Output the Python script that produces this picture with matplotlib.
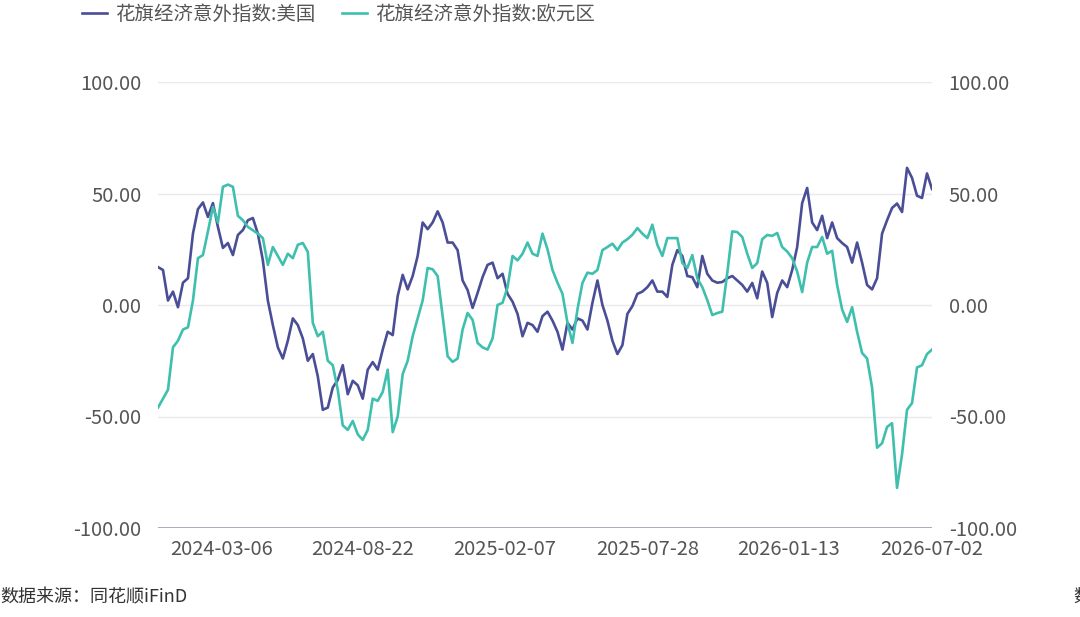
import matplotlib
matplotlib.use("Agg")
import matplotlib.pyplot as plt
import matplotlib.dates as mdates
import pandas as pd

plt.rcParams['font.family'] = ['Noto Sans CJK SC', 'DejaVu Sans']

# weekly-ish samples
start_date = '2023-12-21'
end_date = '2026-07-03'

us = [17, 15.7, 2, 6, -1, 10, 12, 32, 43, 46,
      39.5, 45.7, 35, 25.6, 27.8, 22.4, 31.4, 33.6, 38, 39,
      32, 20, 2, -9, -19, -24, -16, -6, -9, -15,
      -25, -22, -32, -47, -46, -37, -33.6, -27, -40, -34,
      -36, -42, -29, -25.6, -29, -20, -12, -13.5, 4, 13.5,
      7, 13, 22, 37, 34, 37, 42, 37, 28, 28,
      24.6, 11, 6.7, -1.3, 5.4, 12.5, 18, 19, 12, 14,
      5, 1.5, -4, -14, -8, -9, -12, -5, -3, -7,
      -12, -20, -8, -11, -6, -7, -11, 1, 11, 0,
      -7, -16, -22, -18, -4, -0.5, 5, 6, 8, 11,
      6, 6, 3.6, 18, 24.6, 22, 13, 12.5, 8, 22,
      14, 11, 10, 10.3, 12, 13, 11, 9, 6, 9.9,
      3, 15, 9.9, -5.4, 5.4, 11, 8, 15.7, 26, 45.7,
      52.5, 37, 33.6, 40, 30, 37, 30, 27.8, 26, 19,
      28, 19, 9, 7, 12, 32, 38, 43.5, 45.5, 41.7,
      61.5, 57, 49, 48, 59, 52]

eu = [-46, -42, -38, -19, -16, -11, -10, 2, 21, 22.4,
      33, 44, 37, 53, 54, 53, 40, 38, 35, 33.5,
      32, 30, 18, 26, 22, 18, 23, 21, 27, 27.8,
      23.8, -8, -14, -12, -25, -27, -38, -54, -56, -52,
      -58, -60.5, -56, -42, -43, -39, -29, -57, -50, -31,
      -25, -14, -6, 2, 16.6, 16, 13, -5, -23, -25.5,
      -24, -11, -3.6, -6.7, -17, -19, -20, -15, 0, 1,
      8, 22, 20, 23, 28, 23, 22, 32, 25, 15.7,
      10, 5, -8, -17, -2, 9.9, 14.5, 14, 15.7, 24.6,
      26, 27.5, 24.6, 28, 29.5, 31.5, 34.5, 32, 30, 36,
      27, 22, 30, 30, 30, 18.8, 16.6, 22.4, 12, 8,
      2.2, -4.5, -3.6, -3, 14.3, 33, 32.7, 30.5, 23, 16.6,
      18.8, 29.5, 31.4, 31, 32.3, 26, 24, 21, 15, 5.8,
      19, 26, 26, 30.5, 23, 24.3, 9, -2, -7.6, -1,
      -12, -21.5, -24, -37, -64, -62, -54.7, -53, -82, -67,
      -47, -44, -28, -27, -22, -20]

tick_dates = ['2024-03-06', '2024-08-22', '2025-02-07',
              '2025-07-28', '2026-01-13', '2026-07-02']
y_ticks = [-100, -50, 0, 50, 100]

names = ['花旗经济意外指数:美国', '花旗经济意外指数:欧元区']
colors = ['#4a4e96', '#3fbfae']

dates = pd.date_range(start_date, end_date, periods=len(us))

fig = plt.figure(figsize=(10.8, 6.17), dpi=100)
ax = fig.add_axes([158 / 1080, 1 - 528 / 617, 774 / 1080, 446 / 617])
ax2 = ax.twinx()

l1, = ax.plot(dates, us, color=colors[0], lw=1.9, label=names[0])
l2, = ax2.plot(dates, eu, color=colors[1], lw=1.9, label=names[1])

for a in (ax, ax2):
    a.set_ylim(-100, 100)
    a.set_yticks(y_ticks)
    a.set_yticklabels(['%.2f' % v for v in y_ticks])
    for s in a.spines.values():
        s.set_visible(False)
    a.tick_params(axis='y', length=0, labelsize=14.5, labelcolor='#555555', pad=12)

for v in y_ticks[1:]:
    ax.axhline(v, color='#e9e9ee', lw=1, zorder=0)
ax.axhline(-100, color='#9ea3b8', lw=2, zorder=1)

ax.set_xlim(dates[0], dates[-1])
ax.set_xticks(pd.to_datetime(tick_dates))
ax.xaxis.set_major_formatter(mdates.DateFormatter('%Y-%m-%d'))
ax.tick_params(axis='x', length=0, labelsize=14.5, labelcolor='#555555', pad=8)

fig.legend(handles=[l1, l2], loc='center left', bbox_to_anchor=(64 / 1080, 1 - 14 / 617),
           ncol=2, frameon=False, fontsize=14, handlelength=1.3,
           handletextpad=0.4, columnspacing=1.4, labelcolor='#555555')

fig.text(0, 1 - 597 / 617, '数据来源：同花顺iFinD', fontsize=13, color='#333333',
         ha='left', va='center')
fig.text(1073 / 1080, 1 - 597 / 617, '数', fontsize=13, color='#333333',
         ha='left', va='center')

fig.savefig('out.png', dpi=100)
